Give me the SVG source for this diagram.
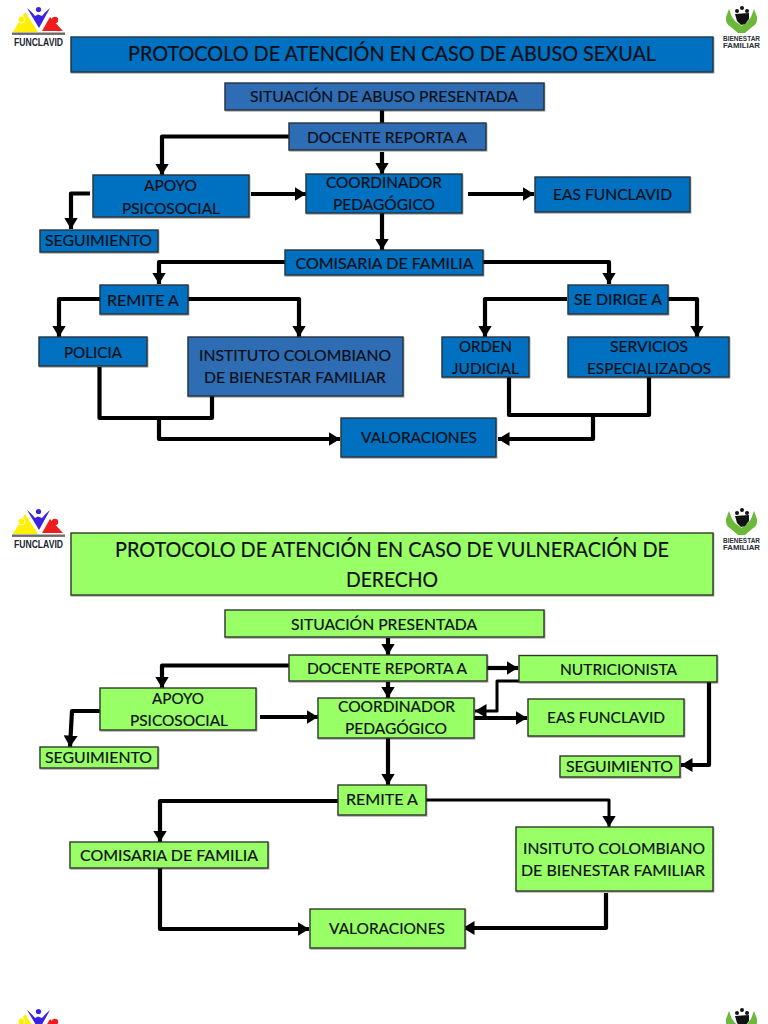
<svg xmlns="http://www.w3.org/2000/svg" xmlns:xlink="http://www.w3.org/1999/xlink" width="768" height="1024" viewBox="0 0 768 1024">
<style>
.b{fill:#0070c0;stroke:#26323c;stroke-width:1.4;filter:url(#sh)}
.l{fill:#2e6db4;stroke:#26323c;stroke-width:1.4;filter:url(#sh)}
.g{fill:#99ff66;stroke:#2d3a2a;stroke-width:1.4;filter:url(#sh)}
text{font-family:"Lato","Liberation Sans",sans-serif;fill:#0c0f14;text-anchor:middle}
.t{font-size:16px;stroke:#0c0f14;stroke-width:0.2}
.h{font-size:20.5px;stroke:#0c0f14;stroke-width:0.2}
.lg{font-weight:700;font-family:"Liberation Sans",sans-serif;fill:#2a2f33}
.c{fill:none;stroke:#000;stroke-width:4.2;stroke-linejoin:round}
.a{marker-end:url(#ah)}
.n{stroke-width:3}
</style>
<defs>
<filter id="sh" x="-5%" y="-10%" width="110%" height="125%"><feDropShadow dx="0.6" dy="1" stdDeviation="0.6" flood-color="#000" flood-opacity="0.35"/></filter>
<marker id="ah" markerUnits="userSpaceOnUse" markerWidth="12" markerHeight="14" refX="11.500" refY="7" orient="auto"><path d="M0 0L11.500 7L0 14Z" fill="#000"/></marker>
<g id="logoL">
<path d="M13 32L25 12L38 32Z" fill="#ffef00"/>
<path d="M42 31L50 17L63 31Z" fill="#ee1c1c"/>
<path d="M27 8Q33 13 35 16L38 14.500L42 16Q45 12 50 8L39 28Z" fill="#3a22e0"/>
<circle cx="38.500" cy="9.500" r="2.600" fill="#3a22e0"/>
<circle cx="21.500" cy="19.500" r="3.400" fill="#ffef00" stroke="#fff" stroke-width="0.8"/>
<circle cx="55" cy="20" r="3.200" fill="#ee1c1c"/>
<rect x="12" y="32.500" width="53" height="2.400" fill="#6a6a6a"/>
<text class="lg" x="38.500" y="46" style="font-size:11px;fill:#1c2430" textLength="49" lengthAdjust="spacingAndGlyphs">FUNCLAVID</text>
</g>
<g id="logoR">
<path d="M729 9L726 17Q725 24 731 27L738 33L744 33L743 27L735 21L732 17Z" fill="#6cb83a"/>
<path d="M754 9L757 17Q758 24 752 27L745 33L739 33L740 27L748 21L751 17Z" fill="#6cb83a"/>
<circle cx="742" cy="8" r="2" fill="#111"/><circle cx="737" cy="11" r="2" fill="#111"/><circle cx="747" cy="11" r="2" fill="#111"/>
<path d="M735 14L749 13L749 19L745 24L741 25L737 21Z" fill="#111"/>
<text class="lg" x="741.500" y="40.700" style="font-size:6.500px" textLength="37" lengthAdjust="spacingAndGlyphs">BIENESTAR</text>
<text class="lg" x="741.500" y="48" style="font-size:6.500px" textLength="37" lengthAdjust="spacingAndGlyphs">FAMILIAR</text>
</g>
</defs>
<rect width="768" height="1024" fill="#fff"/>

<g id="logos">
<use xlink:href="#logoL"/><use xlink:href="#logoR"/>
<use xlink:href="#logoL" y="502"/><use xlink:href="#logoR" y="502"/>
<use xlink:href="#logoL" y="1002"/><use xlink:href="#logoR" y="1002"/>
</g>

<g id="connectors">
<path class="c" d="M382 110V123"/>
<path class="c a" d="M382 152V174"/>
<path class="c a" d="M289 136.500H162V175"/>
<path class="c a" d="M90 193.500H71V229"/>
<path class="c a" d="M251 194H306"/>
<path class="c a" d="M468 194H534"/>
<path class="c a" d="M382 213V250"/>
<path class="c a" d="M285 262H159V284"/>
<path class="c a" d="M483 262H609V284"/>
<path class="c a" d="M100 299H59V337"/>
<path class="c a" d="M188 299H299V337"/>
<path class="c a" d="M567 299H485V337"/>
<path class="c a" d="M668 299H697V337"/>
<path class="c" d="M99.500 367V418H212V396"/>
<path class="c a" d="M159 418V439H340"/>
<path class="c" d="M509 377V415H649V377"/>
<path class="c a" d="M593 415V439H498"/>

<path class="c a" d="M388 638V655"/>
<path class="c a" d="M388 682V698"/>
<path class="c a" d="M289 665.500H162V688"/>
<path class="c a" d="M102 711H72L70 747"/>
<path class="c a" d="M260 717H318"/>
<path class="c a" d="M487 668H518"/>
<path class="c n a" d="M519 681H497V711H475"/>
<path class="c a" d="M474 718H527"/>
<path class="c a" d="M709 682V765H681"/>
<path class="c a" d="M388 738V785"/>
<path class="c a" d="M338 801H160V842"/>
<path class="c n a" d="M426 800H609V827"/>
<path class="c a" d="M160 868V929H309"/>
<path class="c a" d="M606 893V928H463"/>
</g>

<g id="n1-title"><rect class="b" x="71" y="37" width="642" height="35"/><text class="h" x="392" y="61" textLength="528" lengthAdjust="spacingAndGlyphs">PROTOCOLO DE ATENCIÓN EN CASO DE ABUSO SEXUAL</text></g>
<g id="n1-situacion"><rect class="l" x="225" y="83" width="319" height="27"/><text class="t" x="384" y="102" textLength="268" lengthAdjust="spacingAndGlyphs">SITUACIÓN DE ABUSO PRESENTADA</text></g>
<g id="n1-docente"><rect class="l" x="289" y="123" width="197" height="27"/><text class="t" x="387" y="143" textLength="160" lengthAdjust="spacingAndGlyphs">DOCENTE REPORTA A</text></g>
<g id="n1-apoyo"><rect class="b" x="93" y="175" width="156" height="42"/><text class="t" x="170.500" y="191" textLength="53" lengthAdjust="spacingAndGlyphs">APOYO</text><text class="t" x="171" y="214" textLength="98" lengthAdjust="spacingAndGlyphs">PSICOSOCIAL</text></g>
<g id="n1-coordinador"><rect class="b" x="306" y="174" width="156" height="39"/><text class="t" x="384" y="188" textLength="116" lengthAdjust="spacingAndGlyphs">COORDINADOR</text><text class="t" x="384" y="210" textLength="102" lengthAdjust="spacingAndGlyphs">PEDAGÓGICO</text></g>
<g id="n1-eas"><rect class="b" x="535" y="177" width="155" height="35"/><text class="t" x="612.500" y="200" textLength="119" lengthAdjust="spacingAndGlyphs">EAS FUNCLAVID</text></g>
<g id="n1-seguimiento"><rect class="b" x="40" y="230" width="118" height="22"/><text class="t" x="98.500" y="246" textLength="107" lengthAdjust="spacingAndGlyphs">SEGUIMIENTO</text></g>
<g id="n1-comisaria"><rect class="b" x="285" y="250" width="198" height="25"/><text class="t" x="384.500" y="269" textLength="178" lengthAdjust="spacingAndGlyphs">COMISARIA DE FAMILIA</text></g>
<g id="n1-remite"><rect class="b" x="100" y="285" width="88" height="29"/><text class="t" x="143" y="306" textLength="72" lengthAdjust="spacingAndGlyphs">REMITE A</text></g>
<g id="n1-sedirige"><rect class="b" x="568" y="285" width="100" height="29"/><text class="t" x="618" y="305" textLength="88" lengthAdjust="spacingAndGlyphs">SE DIRIGE A</text></g>
<g id="n1-policia"><rect class="b" x="39" y="337" width="108" height="29"/><text class="t" x="93" y="358" textLength="58" lengthAdjust="spacingAndGlyphs">POLICIA</text></g>
<g id="n1-instituto"><rect class="l" x="188" y="337" width="215" height="59"/><text class="t" x="295" y="361" textLength="192" lengthAdjust="spacingAndGlyphs">INSTITUTO COLOMBIANO</text><text class="t" x="295" y="383" textLength="182" lengthAdjust="spacingAndGlyphs">DE BIENESTAR FAMILIAR</text></g>
<g id="n1-orden"><rect class="b" x="442" y="337" width="87" height="40"/><text class="t" x="485.500" y="352" textLength="53" lengthAdjust="spacingAndGlyphs">ORDEN</text><text class="t" x="485.500" y="374" textLength="67" lengthAdjust="spacingAndGlyphs">JUDICIAL</text></g>
<g id="n1-servicios"><rect class="b" x="568" y="337" width="161" height="40"/><text class="t" x="649" y="352" textLength="78" lengthAdjust="spacingAndGlyphs">SERVICIOS</text><text class="t" x="649" y="374" textLength="124" lengthAdjust="spacingAndGlyphs">ESPECIALIZADOS</text></g>
<g id="n1-valoraciones"><rect class="b" x="341" y="418" width="155" height="39"/><text class="t" x="419" y="443" textLength="116" lengthAdjust="spacingAndGlyphs">VALORACIONES</text></g>

<g id="n2-title"><rect class="g" x="71" y="533" width="642" height="62"/><text class="h" x="392" y="557" textLength="554" lengthAdjust="spacingAndGlyphs">PROTOCOLO DE ATENCIÓN EN CASO DE VULNERACIÓN DE</text><text class="h" x="392" y="587" textLength="92" lengthAdjust="spacingAndGlyphs">DERECHO</text></g>
<g id="n2-situacion"><rect class="g" x="225" y="610" width="319" height="27"/><text class="t" x="384" y="630" textLength="186" lengthAdjust="spacingAndGlyphs">SITUACIÓN PRESENTADA</text></g>
<g id="n2-docente"><rect class="g" x="289" y="655" width="198" height="26"/><text class="t" x="387" y="674" textLength="160" lengthAdjust="spacingAndGlyphs">DOCENTE REPORTA A</text></g>
<g id="n2-nutricionista"><rect class="g" x="519" y="655.500" width="198" height="26.500"/><text class="t" x="618.500" y="675" textLength="117" lengthAdjust="spacingAndGlyphs">NUTRICIONISTA</text></g>
<g id="n2-apoyo"><rect class="g" x="100" y="688" width="156" height="42"/><text class="t" x="178" y="704" textLength="52" lengthAdjust="spacingAndGlyphs">APOYO</text><text class="t" x="179" y="726" textLength="98" lengthAdjust="spacingAndGlyphs">PSICOSOCIAL</text></g>
<g id="n2-coordinador"><rect class="g" x="318" y="698" width="156" height="40"/><text class="t" x="396.500" y="712" textLength="117" lengthAdjust="spacingAndGlyphs">COORDINADOR</text><text class="t" x="396" y="734" textLength="102" lengthAdjust="spacingAndGlyphs">PEDAGÓGICO</text></g>
<g id="n2-eas"><rect class="g" x="528" y="699" width="156" height="37"/><text class="t" x="606" y="723" textLength="118" lengthAdjust="spacingAndGlyphs">EAS FUNCLAVID</text></g>
<g id="n2-seguimiento1"><rect class="g" x="40" y="747" width="118" height="21"/><text class="t" x="98.500" y="763" textLength="107" lengthAdjust="spacingAndGlyphs">SEGUIMIENTO</text></g>
<g id="n2-seguimiento2"><rect class="g" x="560" y="756" width="120" height="21"/><text class="t" x="619.500" y="772" textLength="107" lengthAdjust="spacingAndGlyphs">SEGUIMIENTO</text></g>
<g id="n2-remite"><rect class="g" x="338" y="785" width="88" height="30"/><text class="t" x="382" y="805" textLength="72" lengthAdjust="spacingAndGlyphs">REMITE A</text></g>
<g id="n2-comisaria"><rect class="g" x="70" y="842" width="198" height="26"/><text class="t" x="169" y="861" textLength="178" lengthAdjust="spacingAndGlyphs">COMISARIA DE FAMILIA</text></g>
<g id="n2-instituto"><rect class="g" x="516" y="827" width="197" height="64"/><text class="t" x="614" y="854" textLength="182" lengthAdjust="spacingAndGlyphs">INSITUTO COLOMBIANO</text><text class="t" x="613" y="876" textLength="184" lengthAdjust="spacingAndGlyphs">DE BIENESTAR FAMILIAR</text></g>
<g id="n2-valoraciones"><rect class="g" x="310" y="909" width="155" height="39"/><text class="t" x="387" y="934" textLength="116" lengthAdjust="spacingAndGlyphs">VALORACIONES</text></g>
</svg>
